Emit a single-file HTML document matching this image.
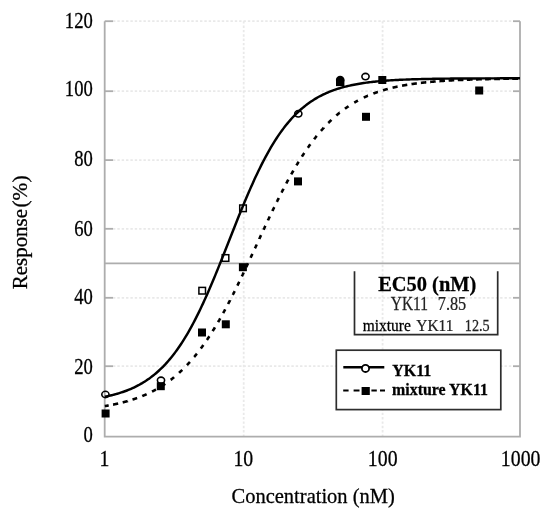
<!DOCTYPE html><html><head><meta charset="utf-8"><style>html,body{margin:0;padding:0;background:#fff;}svg{display:block;}text{font-family:"Liberation Serif","Times New Roman",serif;fill:#000;stroke:#000;stroke-width:0.28px;}</style></head><body>
<svg width="550" height="519" viewBox="0 0 550 519">
<rect width="550" height="519" fill="#fff"/>
<g stroke="#e9e9e9" stroke-width="1.8" stroke-dasharray="2.4 1.95" fill="none"><line x1="113" y1="366.2" x2="513" y2="366.2"/><line x1="113" y1="297.8" x2="513" y2="297.8"/><line x1="113" y1="228.8" x2="513" y2="228.8"/><line x1="113" y1="160.1" x2="513" y2="160.1"/><line x1="113" y1="91.2" x2="513" y2="91.2"/><line x1="113" y1="21.2" x2="513" y2="21.2"/><line x1="243.7" y1="21.2" x2="243.7" y2="436"/><line x1="382.6" y1="21.2" x2="382.6" y2="436"/></g>
<g stroke="#adadad" stroke-width="1.8" fill="none">
<path d="M104.7,21.2 V436.7 H520 V21.2"/>
<line x1="104.7" y1="366.2" x2="113" y2="366.2"/><line x1="513" y1="366.2" x2="520" y2="366.2"/>
<line x1="104.7" y1="297.8" x2="113" y2="297.8"/><line x1="513" y1="297.8" x2="520" y2="297.8"/>
<line x1="104.7" y1="228.8" x2="113" y2="228.8"/><line x1="513" y1="228.8" x2="520" y2="228.8"/>
<line x1="104.7" y1="160.1" x2="113" y2="160.1"/><line x1="513" y1="160.1" x2="520" y2="160.1"/>
<line x1="104.7" y1="91.2" x2="113" y2="91.2"/><line x1="513" y1="91.2" x2="520" y2="91.2"/>
<line x1="104.7" y1="21.2" x2="113" y2="21.2"/><line x1="513" y1="21.2" x2="520" y2="21.2"/>
<line x1="104.7" y1="263.4" x2="520" y2="263.4"/>
</g>
<path d="M104.80,396.77 L106.18,396.48 L107.57,396.19 L108.95,395.88 L110.34,395.56 L111.72,395.22 L113.10,394.87 L114.49,394.51 L115.87,394.13 L117.26,393.74 L118.64,393.33 L120.02,392.90 L121.41,392.45 L122.79,391.99 L124.18,391.51 L125.56,391.00 L126.94,390.48 L128.33,389.93 L129.71,389.37 L131.10,388.78 L132.48,388.17 L133.86,387.53 L135.25,386.86 L136.63,386.18 L138.02,385.46 L139.40,384.71 L140.78,383.94 L142.17,383.14 L143.55,382.30 L144.94,381.43 L146.32,380.54 L147.70,379.60 L149.09,378.63 L150.47,377.63 L151.86,376.58 L153.24,375.50 L154.62,374.38 L156.01,373.22 L157.39,372.02 L158.78,370.77 L160.16,369.48 L161.54,368.15 L162.93,366.77 L164.31,365.34 L165.70,363.87 L167.08,362.34 L168.46,360.77 L169.85,359.14 L171.23,357.47 L172.62,355.74 L174.00,353.95 L175.38,352.12 L176.77,350.22 L178.15,348.27 L179.54,346.27 L180.92,344.20 L182.30,342.08 L183.69,339.90 L185.07,337.67 L186.46,335.37 L187.84,333.02 L189.22,330.60 L190.61,328.13 L191.99,325.60 L193.38,323.02 L194.76,320.37 L196.14,317.67 L197.53,314.92 L198.91,312.11 L200.30,309.24 L201.68,306.32 L203.06,303.36 L204.45,300.34 L205.83,297.27 L207.22,294.16 L208.60,291.00 L209.98,287.80 L211.37,284.56 L212.75,281.28 L214.14,277.97 L215.52,274.62 L216.90,271.24 L218.29,267.84 L219.67,264.41 L221.06,260.96 L222.44,257.49 L223.82,254.01 L225.21,250.51 L226.59,247.00 L227.98,243.49 L229.36,239.98 L230.74,236.46 L232.13,232.96 L233.51,229.45 L234.90,225.96 L236.28,222.48 L237.66,219.02 L239.05,215.58 L240.43,212.17 L241.82,208.77 L243.20,205.41 L244.58,202.08 L245.97,198.78 L247.35,195.52 L248.74,192.30 L250.12,189.12 L251.50,185.98 L252.89,182.89 L254.27,179.85 L255.66,176.85 L257.04,173.91 L258.42,171.01 L259.81,168.17 L261.19,165.39 L262.58,162.66 L263.96,159.98 L265.34,157.37 L266.73,154.81 L268.11,152.31 L269.50,149.86 L270.88,147.48 L272.26,145.15 L273.65,142.88 L275.03,140.67 L276.42,138.52 L277.80,136.43 L279.18,134.39 L280.57,132.41 L281.95,130.49 L283.34,128.62 L284.72,126.81 L286.10,125.05 L287.49,123.35 L288.87,121.69 L290.26,120.09 L291.64,118.54 L293.02,117.04 L294.41,115.59 L295.79,114.18 L297.18,112.82 L298.56,111.51 L299.94,110.24 L301.33,109.02 L302.71,107.84 L304.10,106.69 L305.48,105.59 L306.86,104.53 L308.25,103.50 L309.63,102.52 L311.02,101.56 L312.40,100.65 L313.78,99.76 L315.17,98.91 L316.55,98.09 L317.94,97.30 L319.32,96.54 L320.70,95.81 L322.09,95.11 L323.47,94.43 L324.86,93.78 L326.24,93.15 L327.62,92.55 L329.01,91.97 L330.39,91.41 L331.78,90.88 L333.16,90.37 L334.54,89.87 L335.93,89.40 L337.31,88.94 L338.70,88.51 L340.08,88.09 L341.46,87.68 L342.85,87.30 L344.23,86.92 L345.62,86.57 L347.00,86.23 L348.38,85.90 L349.77,85.58 L351.15,85.28 L352.54,84.99 L353.92,84.71 L355.30,84.44 L356.69,84.19 L358.07,83.94 L359.46,83.71 L360.84,83.48 L362.22,83.26 L363.61,83.05 L364.99,82.86 L366.38,82.66 L367.76,82.48 L369.14,82.30 L370.53,82.14 L371.91,81.97 L373.30,81.82 L374.68,81.67 L376.06,81.53 L377.45,81.39 L378.83,81.26 L380.22,81.14 L381.60,81.02 L382.98,80.90 L384.37,80.79 L385.75,80.69 L387.14,80.58 L388.52,80.49 L389.90,80.39 L391.29,80.31 L392.67,80.22 L394.06,80.14 L395.44,80.06 L396.82,79.98 L398.21,79.91 L399.59,79.84 L400.98,79.78 L402.36,79.71 L403.74,79.65 L405.13,79.60 L406.51,79.54 L407.90,79.49 L409.28,79.44 L410.66,79.39 L412.05,79.34 L413.43,79.30 L414.82,79.25 L416.20,79.21 L417.58,79.17 L418.97,79.13 L420.35,79.10 L421.74,79.06 L423.12,79.03 L424.50,79.00 L425.89,78.97 L427.27,78.94 L428.66,78.91 L430.04,78.88 L431.42,78.86 L432.81,78.83 L434.19,78.81 L435.58,78.79 L436.96,78.77 L438.34,78.74 L439.73,78.73 L441.11,78.71 L442.50,78.69 L443.88,78.67 L445.26,78.65 L446.65,78.64 L448.03,78.62 L449.42,78.61 L450.80,78.59 L452.18,78.58 L453.57,78.57 L454.95,78.56 L456.34,78.54 L457.72,78.53 L459.10,78.52 L460.49,78.51 L461.87,78.50 L463.26,78.49 L464.64,78.48 L466.02,78.47 L467.41,78.47 L468.79,78.46 L470.18,78.45 L471.56,78.44 L472.94,78.44 L474.33,78.43 L475.71,78.42 L477.10,78.42 L478.48,78.41 L479.86,78.40 L481.25,78.40 L482.63,78.39 L484.02,78.39 L485.40,78.38 L486.78,78.38 L488.17,78.38 L489.55,78.37 L490.94,78.37 L492.32,78.36 L493.70,78.36 L495.09,78.36 L496.47,78.35 L497.86,78.35 L499.24,78.35 L500.62,78.34 L502.01,78.34 L503.39,78.34 L504.78,78.34 L506.16,78.33 L507.54,78.33 L508.93,78.33 L510.31,78.33 L511.70,78.32 L513.08,78.32 L514.46,78.32 L515.85,78.32 L517.23,78.32 L518.62,78.31 L520.00,78.31" fill="none" stroke="#000" stroke-width="2.45" stroke-linejoin="round"/>
<path d="M104.80,406.09 L104.94,406.07 L105.08,406.05 L105.22,406.02 L105.35,406.00 L105.49,405.98 L105.63,405.96 L105.77,405.93 L105.91,405.91 L106.05,405.89 L106.18,405.86 L106.32,405.84 L106.46,405.82 L106.60,405.79 L106.74,405.77 L106.88,405.74 L107.01,405.72 L107.15,405.70 L107.29,405.67 L107.43,405.65 L107.57,405.62 L107.71,405.60 L107.84,405.58 L107.98,405.55 L108.12,405.53 L108.26,405.50 L108.40,405.48 L108.54,405.45 L108.68,405.43 L108.74,405.42 M113.06,404.59 L113.10,404.59 L113.24,404.56 L113.38,404.53 L113.52,404.50 L113.66,404.47 L113.80,404.45 L113.93,404.42 L114.07,404.39 L114.21,404.36 L114.35,404.33 L114.49,404.30 L114.63,404.27 L114.76,404.24 L114.90,404.22 L115.04,404.19 L115.18,404.16 L115.32,404.13 L115.46,404.10 L115.60,404.07 L115.73,404.04 L115.87,404.01 L116.01,403.98 L116.15,403.95 L116.29,403.92 L116.43,403.89 L116.56,403.86 L116.70,403.83 L116.84,403.80 L116.98,403.77 L117.12,403.74 L117.26,403.71 L117.39,403.68 L117.53,403.65 L117.67,403.61 L117.81,403.58 L117.95,403.55 L118.09,403.52 L118.17,403.50 M122.74,402.40 L122.79,402.39 L122.93,402.35 L123.07,402.32 L123.21,402.28 L123.35,402.25 L123.48,402.21 L123.62,402.17 L123.76,402.14 L123.90,402.10 L124.04,402.07 L124.18,402.03 L124.31,401.99 L124.45,401.96 L124.59,401.92 L124.73,401.88 L124.87,401.85 L125.01,401.81 L125.14,401.77 L125.28,401.73 L125.42,401.70 L125.56,401.66 L125.70,401.62 L125.84,401.58 L125.98,401.54 L126.11,401.51 L126.25,401.47 L126.39,401.43 L126.53,401.39 L126.67,401.35 L126.81,401.31 L126.94,401.27 L127.08,401.24 L127.22,401.20 L127.36,401.16 L127.50,401.12 L127.64,401.08 L127.65,401.07 M132.50,399.60 L132.62,399.56 L132.76,399.52 L132.90,399.47 L133.03,399.42 L133.17,399.38 L133.31,399.33 L133.45,399.29 L133.59,399.24 L133.73,399.20 L133.86,399.15 L134.00,399.11 L134.14,399.06 L134.28,399.01 L134.42,398.97 L134.56,398.92 L134.69,398.87 L134.83,398.82 L134.97,398.78 L135.11,398.73 L135.25,398.68 L135.39,398.63 L135.52,398.59 L135.66,398.54 L135.80,398.49 L135.94,398.44 L136.08,398.39 L136.22,398.35 L136.36,398.30 L136.49,398.25 L136.63,398.20 L136.77,398.15 L136.91,398.10 L137.05,398.05 L137.14,398.02 M142.29,396.05 L142.31,396.04 L142.44,395.98 L142.58,395.93 L142.72,395.87 L142.86,395.81 L143.00,395.76 L143.14,395.70 L143.28,395.64 L143.41,395.58 L143.55,395.52 L143.69,395.47 L143.83,395.41 L143.97,395.35 L144.11,395.29 L144.24,395.23 L144.38,395.17 L144.52,395.11 L144.66,395.06 L144.80,395.00 L144.94,394.94 L145.07,394.88 L145.21,394.82 L145.35,394.76 L145.49,394.70 L145.63,394.63 L145.77,394.57 L145.90,394.51 L146.04,394.45 L146.18,394.39 L146.32,394.33 L146.46,394.27 L146.60,394.20 L146.60,394.20 M152.04,391.60 L152.13,391.55 L152.27,391.48 L152.41,391.41 L152.55,391.34 L152.69,391.27 L152.82,391.20 L152.96,391.12 L153.10,391.05 L153.24,390.98 L153.38,390.91 L153.52,390.83 L153.66,390.76 L153.79,390.69 L153.93,390.62 L154.07,390.54 L154.21,390.47 L154.35,390.39 L154.49,390.32 L154.62,390.24 L154.76,390.17 L154.90,390.10 L155.04,390.02 L155.18,389.94 L155.32,389.87 L155.45,389.79 L155.59,389.72 L155.73,389.64 L155.87,389.56 L155.97,389.51 M161.64,386.15 L161.68,386.12 L161.82,386.03 L161.96,385.95 L162.10,385.86 L162.24,385.77 L162.37,385.68 L162.51,385.59 L162.65,385.50 L162.79,385.41 L162.93,385.32 L163.07,385.23 L163.20,385.14 L163.34,385.05 L163.48,384.96 L163.62,384.87 L163.76,384.78 L163.90,384.69 L164.04,384.60 L164.17,384.50 L164.31,384.41 L164.45,384.32 L164.59,384.23 L164.73,384.13 L164.87,384.04 L165.00,383.95 L165.14,383.85 L165.23,383.79 M170.66,379.87 L170.68,379.86 L170.82,379.75 L170.96,379.64 L171.09,379.54 L171.23,379.43 L171.37,379.32 L171.51,379.22 L171.65,379.11 L171.79,379.00 L171.92,378.89 L172.06,378.78 L172.20,378.67 L172.34,378.56 L172.48,378.45 L172.62,378.34 L172.75,378.23 L172.89,378.12 L173.03,378.01 L173.17,377.90 L173.31,377.79 L173.45,377.68 L173.58,377.56 L173.72,377.45 L173.86,377.34 L174.00,377.23 L174.03,377.20 M179.10,372.82 L179.12,372.80 L179.26,372.68 L179.40,372.55 L179.54,372.43 L179.67,372.30 L179.81,372.17 L179.95,372.04 L180.09,371.92 L180.23,371.79 L180.37,371.66 L180.50,371.53 L180.64,371.40 L180.78,371.27 L180.92,371.14 L181.06,371.01 L181.20,370.88 L181.34,370.75 L181.47,370.62 L181.61,370.48 L181.75,370.35 L181.89,370.22 L182.03,370.09 L182.17,369.95 L182.24,369.88 M186.95,365.12 L187.01,365.06 L187.15,364.91 L187.29,364.77 L187.42,364.62 L187.56,364.47 L187.70,364.32 L187.84,364.18 L187.98,364.03 L188.12,363.88 L188.26,363.73 L188.39,363.58 L188.53,363.43 L188.67,363.28 L188.81,363.13 L188.95,362.98 L189.09,362.82 L189.22,362.67 L189.36,362.52 L189.50,362.37 L189.64,362.21 L189.78,362.06 L189.87,361.96 M194.16,356.98 L194.21,356.93 L194.34,356.77 L194.48,356.60 L194.62,356.43 L194.76,356.26 L194.90,356.10 L195.04,355.93 L195.18,355.76 L195.31,355.59 L195.45,355.42 L195.59,355.25 L195.73,355.08 L195.87,354.91 L196.01,354.74 L196.14,354.56 L196.28,354.39 L196.42,354.22 L196.56,354.05 L196.70,353.87 L196.84,353.70 L196.88,353.65 M200.80,348.55 L200.85,348.48 L200.99,348.29 L201.13,348.10 L201.26,347.92 L201.40,347.73 L201.54,347.54 L201.68,347.35 L201.82,347.16 L201.96,346.97 L202.10,346.79 L202.23,346.60 L202.37,346.40 L202.51,346.21 L202.65,346.02 L202.79,345.83 L202.93,345.64 L203.06,345.45 L203.20,345.25 L203.33,345.08 M206.94,339.89 L206.94,339.89 L207.08,339.69 L207.22,339.48 L207.35,339.28 L207.49,339.07 L207.63,338.86 L207.77,338.66 L207.91,338.45 L208.05,338.24 L208.18,338.04 L208.32,337.83 L208.46,337.62 L208.60,337.41 L208.74,337.20 L208.88,336.99 L209.02,336.78 L209.15,336.57 L209.29,336.36 L209.32,336.32 M212.67,331.08 L212.75,330.95 L212.89,330.73 L213.03,330.50 L213.17,330.28 L213.31,330.06 L213.44,329.84 L213.58,329.61 L213.72,329.39 L213.86,329.16 L214.00,328.94 L214.14,328.71 L214.27,328.49 L214.41,328.26 L214.55,328.03 L214.69,327.81 L214.83,327.58 L214.93,327.42 M218.06,322.15 L218.15,322.00 L218.29,321.76 L218.43,321.53 L218.56,321.29 L218.70,321.05 L218.84,320.81 L218.98,320.57 L219.12,320.33 L219.26,320.09 L219.40,319.85 L219.53,319.61 L219.67,319.37 L219.81,319.13 L219.95,318.89 L220.09,318.64 L220.21,318.42 M223.18,313.13 L223.27,312.97 L223.41,312.71 L223.55,312.46 L223.69,312.21 L223.82,311.96 L223.96,311.70 L224.10,311.45 L224.24,311.20 L224.38,310.94 L224.52,310.69 L224.65,310.44 L224.79,310.18 L224.93,309.93 L225.07,309.67 L225.21,309.41 L225.24,309.35 M228.07,304.05 L228.11,303.96 L228.25,303.69 L228.39,303.43 L228.53,303.17 L228.67,302.90 L228.81,302.64 L228.94,302.37 L229.08,302.11 L229.22,301.84 L229.36,301.57 L229.50,301.31 L229.64,301.04 L229.78,300.77 L229.91,300.51 L230.05,300.24 L230.05,300.23 M232.78,294.89 L232.82,294.82 L232.96,294.54 L233.10,294.27 L233.24,294.00 L233.37,293.72 L233.51,293.45 L233.65,293.17 L233.79,292.89 L233.93,292.62 L234.07,292.34 L234.20,292.06 L234.34,291.79 L234.48,291.51 L234.62,291.23 L234.71,291.05 M237.37,285.67 L237.39,285.63 L237.53,285.34 L237.66,285.06 L237.80,284.78 L237.94,284.49 L238.08,284.21 L238.22,283.93 L238.36,283.64 L238.49,283.36 L238.63,283.07 L238.77,282.79 L238.91,282.50 L239.05,282.22 L239.19,281.93 L239.25,281.80 M241.85,276.39 L241.95,276.17 L242.09,275.88 L242.23,275.59 L242.37,275.30 L242.51,275.01 L242.65,274.72 L242.78,274.43 L242.92,274.14 L243.06,273.84 L243.20,273.55 L243.34,273.26 L243.48,272.97 L243.62,272.68 L243.69,272.51 M246.25,267.08 L246.38,266.80 L246.52,266.50 L246.66,266.21 L246.80,265.91 L246.94,265.62 L247.08,265.32 L247.21,265.03 L247.35,264.73 L247.49,264.43 L247.63,264.14 L247.77,263.84 L247.91,263.54 L248.04,263.25 L248.07,263.18 M250.60,257.74 L250.67,257.59 L250.81,257.29 L250.95,256.99 L251.09,256.69 L251.23,256.39 L251.37,256.09 L251.50,255.80 L251.64,255.50 L251.78,255.20 L251.92,254.90 L252.06,254.60 L252.20,254.30 L252.33,254.00 L252.41,253.84 M254.92,248.39 L254.96,248.30 L255.10,248.00 L255.24,247.70 L255.38,247.40 L255.52,247.10 L255.66,246.80 L255.79,246.50 L255.93,246.20 L256.07,245.90 L256.21,245.60 L256.35,245.30 L256.49,245.00 L256.62,244.70 L256.72,244.49 M259.24,239.04 L259.25,239.00 L259.39,238.70 L259.53,238.40 L259.67,238.10 L259.81,237.80 L259.95,237.50 L260.08,237.20 L260.22,236.90 L260.36,236.60 L260.50,236.30 L260.64,236.00 L260.78,235.70 L260.92,235.40 L261.04,235.14 M263.56,229.69 L263.68,229.44 L263.82,229.14 L263.96,228.84 L264.10,228.54 L264.24,228.25 L264.38,227.95 L264.51,227.65 L264.65,227.36 L264.79,227.06 L264.93,226.76 L265.07,226.47 L265.21,226.17 L265.34,225.87 L265.38,225.80 M267.93,220.37 L267.97,220.27 L268.11,219.98 L268.25,219.69 L268.39,219.39 L268.53,219.10 L268.67,218.81 L268.80,218.51 L268.94,218.22 L269.08,217.93 L269.22,217.64 L269.36,217.35 L269.50,217.05 L269.63,216.76 L269.77,216.48 M272.36,211.07 L272.40,210.97 L272.54,210.69 L272.68,210.40 L272.82,210.11 L272.96,209.82 L273.09,209.54 L273.23,209.25 L273.37,208.97 L273.51,208.68 L273.65,208.39 L273.79,208.11 L273.92,207.82 L274.06,207.54 L274.20,207.25 L274.23,207.19 M276.87,201.81 L276.97,201.61 L277.11,201.33 L277.25,201.05 L277.38,200.77 L277.52,200.49 L277.66,200.22 L277.80,199.94 L277.94,199.66 L278.08,199.38 L278.22,199.10 L278.35,198.83 L278.49,198.55 L278.63,198.27 L278.77,198.00 L278.79,197.96 M281.50,192.61 L281.54,192.53 L281.68,192.26 L281.81,191.99 L281.95,191.72 L282.09,191.46 L282.23,191.19 L282.37,190.92 L282.51,190.65 L282.64,190.38 L282.78,190.11 L282.92,189.85 L283.06,189.58 L283.20,189.31 L283.34,189.05 L283.47,188.79 M286.27,183.48 L286.38,183.27 L286.52,183.01 L286.66,182.76 L286.80,182.50 L286.93,182.24 L287.07,181.98 L287.21,181.73 L287.35,181.47 L287.49,181.21 L287.63,180.96 L287.76,180.70 L287.90,180.45 L288.04,180.19 L288.18,179.94 L288.31,179.69 M291.23,174.42 L291.36,174.19 L291.50,173.94 L291.64,173.70 L291.78,173.45 L291.92,173.21 L292.06,172.97 L292.19,172.72 L292.33,172.48 L292.47,172.24 L292.61,171.99 L292.75,171.75 L292.89,171.51 L293.02,171.27 L293.16,171.03 L293.30,170.79 L293.36,170.69 M296.44,165.44 L296.48,165.36 L296.62,165.13 L296.76,164.90 L296.90,164.67 L297.04,164.44 L297.18,164.21 L297.31,163.98 L297.45,163.75 L297.59,163.52 L297.73,163.29 L297.87,163.07 L298.01,162.84 L298.14,162.61 L298.28,162.39 L298.42,162.16 L298.56,161.93 L298.66,161.77 M301.94,156.56 L302.02,156.43 L302.16,156.21 L302.30,156.00 L302.44,155.78 L302.57,155.57 L302.71,155.36 L302.85,155.14 L302.99,154.93 L303.13,154.72 L303.27,154.51 L303.40,154.30 L303.54,154.09 L303.68,153.88 L303.82,153.67 L303.96,153.46 L304.10,153.25 L304.23,153.04 L304.29,152.96 M307.79,147.81 L307.83,147.76 L307.97,147.56 L308.11,147.36 L308.25,147.17 L308.39,146.97 L308.52,146.77 L308.66,146.58 L308.80,146.38 L308.94,146.19 L309.08,145.99 L309.22,145.80 L309.36,145.61 L309.49,145.41 L309.63,145.22 L309.77,145.03 L309.91,144.84 L310.05,144.65 L310.19,144.45 L310.29,144.31 M314.09,139.24 L314.20,139.10 L314.34,138.92 L314.48,138.74 L314.61,138.56 L314.75,138.39 L314.89,138.21 L315.03,138.03 L315.17,137.86 L315.31,137.68 L315.44,137.51 L315.58,137.33 L315.72,137.16 L315.86,136.98 L316.00,136.81 L316.14,136.63 L316.28,136.46 L316.41,136.29 L316.55,136.12 L316.69,135.95 L316.75,135.87 M320.89,130.92 L320.98,130.82 L321.12,130.66 L321.26,130.50 L321.40,130.35 L321.53,130.19 L321.67,130.03 L321.81,129.87 L321.95,129.72 L322.09,129.56 L322.23,129.41 L322.36,129.25 L322.50,129.10 L322.64,128.94 L322.78,128.79 L322.92,128.63 L323.06,128.48 L323.20,128.33 L323.33,128.17 L323.47,128.02 L323.61,127.87 L323.75,127.72 L323.75,127.71 M328.30,122.94 L328.32,122.93 L328.45,122.79 L328.59,122.65 L328.73,122.51 L328.87,122.37 L329.01,122.24 L329.15,122.10 L329.28,121.96 L329.42,121.83 L329.56,121.69 L329.70,121.56 L329.84,121.42 L329.98,121.29 L330.12,121.15 L330.25,121.02 L330.39,120.88 L330.53,120.75 L330.67,120.62 L330.81,120.48 L330.95,120.35 L331.08,120.22 L331.22,120.09 L331.36,119.96 L331.38,119.94 M336.36,115.45 L336.48,115.34 L336.62,115.23 L336.76,115.11 L336.90,114.99 L337.04,114.87 L337.17,114.76 L337.31,114.64 L337.45,114.52 L337.59,114.41 L337.73,114.29 L337.87,114.18 L338.00,114.06 L338.14,113.95 L338.28,113.83 L338.42,113.72 L338.56,113.60 L338.70,113.49 L338.83,113.38 L338.97,113.27 L339.11,113.15 L339.25,113.04 L339.39,112.93 L339.53,112.82 L339.66,112.71 L339.67,112.71 M345.00,108.66 L345.06,108.61 L345.20,108.51 L345.34,108.42 L345.48,108.32 L345.62,108.22 L345.75,108.12 L345.89,108.02 L346.03,107.93 L346.17,107.83 L346.31,107.73 L346.45,107.64 L346.58,107.54 L346.72,107.44 L346.86,107.35 L347.00,107.25 L347.14,107.16 L347.28,107.06 L347.42,106.97 L347.55,106.88 L347.69,106.78 L347.83,106.69 L347.97,106.60 L348.11,106.50 L348.25,106.41 L348.38,106.32 L348.52,106.23 L348.54,106.21 M354.22,102.66 L354.34,102.59 L354.47,102.51 L354.61,102.43 L354.75,102.35 L354.89,102.27 L355.03,102.19 L355.17,102.11 L355.30,102.03 L355.44,101.95 L355.58,101.88 L355.72,101.80 L355.86,101.72 L356.00,101.64 L356.13,101.56 L356.27,101.48 L356.41,101.41 L356.55,101.33 L356.69,101.25 L356.83,101.18 L356.96,101.10 L357.10,101.02 L357.24,100.95 L357.38,100.87 L357.52,100.80 L357.66,100.72 L357.80,100.65 L357.93,100.57 L357.97,100.55 M363.77,97.62 L363.88,97.56 L364.02,97.50 L364.16,97.43 L364.30,97.37 L364.44,97.30 L364.58,97.24 L364.72,97.18 L364.85,97.11 L364.99,97.05 L365.13,96.98 L365.27,96.92 L365.41,96.86 L365.55,96.79 L365.68,96.73 L365.82,96.67 L365.96,96.61 L366.10,96.54 L366.24,96.48 L366.38,96.42 L366.51,96.36 L366.65,96.30 L366.79,96.24 L366.93,96.18 L367.07,96.11 L367.21,96.05 L367.34,95.99 L367.48,95.93 L367.62,95.87 L367.76,95.81 L367.90,95.75 L367.91,95.75 M373.39,93.54 L373.43,93.52 L373.57,93.47 L373.71,93.42 L373.85,93.37 L373.99,93.31 L374.13,93.26 L374.26,93.21 L374.40,93.16 L374.54,93.11 L374.68,93.06 L374.82,93.01 L374.96,92.96 L375.10,92.91 L375.23,92.86 L375.37,92.81 L375.51,92.76 L375.65,92.71 L375.79,92.66 L375.93,92.61 L376.06,92.56 L376.20,92.51 L376.34,92.46 L376.48,92.41 L376.62,92.36 L376.76,92.31 L376.89,92.27 L377.03,92.22 L377.17,92.17 L377.31,92.12 L377.45,92.07 L377.59,92.03 L377.72,91.98 L377.86,91.93 L377.87,91.93 M383.00,90.29 L383.12,90.25 L383.26,90.21 L383.40,90.17 L383.54,90.13 L383.68,90.09 L383.81,90.05 L383.95,90.01 L384.09,89.97 L384.23,89.92 L384.37,89.88 L384.51,89.84 L384.64,89.80 L384.78,89.76 L384.92,89.72 L385.06,89.69 L385.20,89.65 L385.34,89.61 L385.48,89.57 L385.61,89.53 L385.75,89.49 L385.89,89.45 L386.03,89.41 L386.17,89.37 L386.31,89.33 L386.44,89.30 L386.58,89.26 L386.72,89.22 L386.86,89.18 L387.00,89.14 L387.14,89.11 L387.27,89.07 L387.41,89.03 L387.55,88.99 L387.69,88.96 L387.78,88.93 M392.58,87.72 L392.67,87.70 L392.81,87.66 L392.95,87.63 L393.09,87.60 L393.23,87.57 L393.36,87.53 L393.50,87.50 L393.64,87.47 L393.78,87.44 L393.92,87.41 L394.06,87.37 L394.19,87.34 L394.33,87.31 L394.47,87.28 L394.61,87.25 L394.75,87.22 L394.89,87.18 L395.02,87.15 L395.16,87.12 L395.30,87.09 L395.44,87.06 L395.58,87.03 L395.72,87.00 L395.86,86.97 L395.99,86.94 L396.13,86.91 L396.27,86.88 L396.41,86.85 L396.55,86.82 L396.69,86.79 L396.82,86.76 L396.96,86.73 L397.10,86.70 L397.24,86.67 L397.38,86.64 L397.52,86.61 L397.58,86.60 M402.08,85.70 L402.08,85.70 L402.22,85.67 L402.36,85.65 L402.50,85.62 L402.64,85.60 L402.78,85.57 L402.91,85.55 L403.05,85.52 L403.19,85.49 L403.33,85.47 L403.47,85.44 L403.61,85.42 L403.74,85.39 L403.88,85.37 L404.02,85.34 L404.16,85.32 L404.30,85.29 L404.44,85.27 L404.57,85.24 L404.71,85.22 L404.85,85.20 L404.99,85.17 L405.13,85.15 L405.27,85.12 L405.40,85.10 L405.54,85.08 L405.68,85.05 L405.82,85.03 L405.96,85.00 L406.10,84.98 L406.24,84.96 L406.37,84.93 L406.51,84.91 L406.65,84.89 L406.79,84.86 L406.93,84.84 L407.07,84.82 L407.20,84.79 L407.27,84.78 M411.51,84.12 L411.63,84.10 L411.77,84.08 L411.91,84.06 L412.05,84.04 L412.19,84.02 L412.32,84.00 L412.46,83.98 L412.60,83.96 L412.74,83.94 L412.88,83.92 L413.02,83.90 L413.16,83.88 L413.29,83.86 L413.43,83.84 L413.57,83.82 L413.71,83.80 L413.85,83.78 L413.99,83.76 L414.12,83.74 L414.26,83.72 L414.40,83.70 L414.54,83.68 L414.68,83.66 L414.82,83.64 L414.95,83.62 L415.09,83.61 L415.23,83.59 L415.37,83.57 L415.51,83.55 L415.65,83.53 L415.78,83.51 L415.92,83.49 L416.06,83.48 L416.20,83.46 L416.34,83.44 L416.48,83.42 L416.62,83.40 L416.75,83.38 L416.84,83.37 M420.87,82.87 L420.91,82.87 L421.04,82.85 L421.18,82.84 L421.32,82.82 L421.46,82.81 L421.60,82.79 L421.74,82.77 L421.87,82.76 L422.01,82.74 L422.15,82.73 L422.29,82.71 L422.43,82.69 L422.57,82.68 L422.70,82.66 L422.84,82.65 L422.98,82.63 L423.12,82.62 L423.26,82.60 L423.40,82.59 L423.54,82.57 L423.67,82.56 L423.81,82.54 L423.95,82.53 L424.09,82.51 L424.23,82.50 L424.37,82.48 L424.50,82.47 L424.64,82.45 L424.78,82.44 L424.92,82.42 L425.06,82.41 L425.20,82.39 L425.33,82.38 L425.47,82.36 L425.61,82.35 L425.75,82.33 L425.89,82.32 L426.03,82.30 L426.16,82.29 L426.30,82.28 L426.30,82.28 M430.17,81.90 L430.18,81.90 L430.32,81.88 L430.46,81.87 L430.59,81.86 L430.73,81.85 L430.87,81.83 L431.01,81.82 L431.15,81.81 L431.29,81.80 L431.42,81.78 L431.56,81.77 L431.70,81.76 L431.84,81.75 L431.98,81.73 L432.12,81.72 L432.25,81.71 L432.39,81.70 L432.53,81.69 L432.67,81.67 L432.81,81.66 L432.95,81.65 L433.08,81.64 L433.22,81.63 L433.36,81.61 L433.50,81.60 L433.64,81.59 L433.78,81.58 L433.92,81.57 L434.05,81.55 L434.19,81.54 L434.33,81.53 L434.47,81.52 L434.61,81.51 L434.75,81.50 L434.88,81.49 L435.02,81.47 L435.16,81.46 L435.30,81.45 L435.44,81.44 L435.58,81.43 L435.68,81.42 M439.41,81.13 L439.45,81.13 L439.59,81.12 L439.73,81.11 L439.87,81.10 L440.00,81.09 L440.14,81.08 L440.28,81.07 L440.42,81.06 L440.56,81.05 L440.70,81.04 L440.84,81.03 L440.97,81.02 L441.11,81.01 L441.25,81.00 L441.39,80.99 L441.53,80.98 L441.67,80.97 L441.80,80.96 L441.94,80.95 L442.08,80.94 L442.22,80.93 L442.36,80.92 L442.50,80.91 L442.63,80.90 L442.77,80.90 L442.91,80.89 L443.05,80.88 L443.19,80.87 L443.33,80.86 L443.46,80.85 L443.60,80.84 L443.74,80.83 L443.88,80.82 L444.02,80.81 L444.16,80.80 L444.30,80.79 L444.43,80.79 L444.57,80.78 L444.71,80.77 L444.85,80.76 L444.99,80.75 M448.61,80.53 L448.72,80.52 L448.86,80.52 L449.00,80.51 L449.14,80.50 L449.28,80.49 L449.42,80.48 L449.55,80.48 L449.69,80.47 L449.83,80.46 L449.97,80.45 L450.11,80.44 L450.25,80.44 L450.38,80.43 L450.52,80.42 L450.66,80.41 L450.80,80.41 L450.94,80.40 L451.08,80.39 L451.22,80.38 L451.35,80.38 L451.49,80.37 L451.63,80.36 L451.77,80.35 L451.91,80.35 L452.05,80.34 L452.18,80.33 L452.32,80.32 L452.46,80.32 L452.60,80.31 L452.74,80.30 L452.88,80.29 L453.01,80.29 L453.15,80.28 L453.29,80.27 L453.43,80.27 L453.57,80.26 L453.71,80.25 L453.84,80.25 L453.98,80.24 L454.12,80.23 L454.23,80.23 M457.76,80.06 L457.86,80.05 L458.00,80.04 L458.14,80.04 L458.27,80.03 L458.41,80.03 L458.55,80.02 L458.69,80.01 L458.83,80.01 L458.97,80.00 L459.10,80.00 L459.24,79.99 L459.38,79.98 L459.52,79.98 L459.66,79.97 L459.80,79.96 L459.93,79.96 L460.07,79.95 L460.21,79.95 L460.35,79.94 L460.49,79.93 L460.63,79.93 L460.76,79.92 L460.90,79.92 L461.04,79.91 L461.18,79.91 L461.32,79.90 L461.46,79.89 L461.60,79.89 L461.73,79.88 L461.87,79.88 L462.01,79.87 L462.15,79.87 L462.29,79.86 L462.43,79.85 L462.56,79.85 L462.70,79.84 L462.84,79.84 L462.98,79.83 L463.12,79.83 L463.26,79.82 L463.39,79.81 L463.43,79.81 M466.89,79.68 L466.99,79.68 L467.13,79.67 L467.27,79.67 L467.41,79.66 L467.55,79.66 L467.68,79.65 L467.82,79.65 L467.96,79.64 L468.10,79.64 L468.24,79.63 L468.38,79.63 L468.52,79.62 L468.65,79.62 L468.79,79.61 L468.93,79.61 L469.07,79.60 L469.21,79.60 L469.35,79.60 L469.48,79.59 L469.62,79.59 L469.76,79.58 L469.90,79.58 L470.04,79.57 L470.18,79.57 L470.31,79.56 L470.45,79.56 L470.59,79.55 L470.73,79.55 L470.87,79.54 L471.01,79.54 L471.14,79.54 L471.28,79.53 L471.42,79.53 L471.56,79.52 L471.70,79.52 L471.84,79.51 L471.98,79.51 L472.11,79.50 L472.25,79.50 L472.39,79.50 L472.53,79.49 L472.58,79.49 M475.99,79.39 L476.13,79.38 L476.27,79.38 L476.40,79.38 L476.54,79.37 L476.68,79.37 L476.82,79.36 L476.96,79.36 L477.10,79.36 L477.23,79.35 L477.37,79.35 L477.51,79.34 L477.65,79.34 L477.79,79.34 L477.93,79.33 L478.06,79.33 L478.20,79.33 L478.34,79.32 L478.48,79.32 L478.62,79.31 L478.76,79.31 L478.90,79.31 L479.03,79.30 L479.17,79.30 L479.31,79.30 L479.45,79.29 L479.59,79.29 L479.73,79.28 L479.86,79.28 L480.00,79.28 L480.14,79.27 L480.28,79.27 L480.42,79.27 L480.56,79.26 L480.69,79.26 L480.83,79.26 L480.97,79.25 L481.11,79.25 L481.25,79.25 L481.39,79.24 L481.52,79.24 L481.66,79.24 L481.71,79.23 M485.07,79.15 L485.12,79.15 L485.26,79.15 L485.40,79.15 L485.54,79.14 L485.68,79.14 L485.82,79.14 L485.95,79.13 L486.09,79.13 L486.23,79.13 L486.37,79.13 L486.51,79.12 L486.65,79.12 L486.78,79.12 L486.92,79.11 L487.06,79.11 L487.20,79.11 L487.34,79.10 L487.48,79.10 L487.61,79.10 L487.75,79.10 L487.89,79.09 L488.03,79.09 L488.17,79.09 L488.31,79.08 L488.44,79.08 L488.58,79.08 L488.72,79.08 L488.86,79.07 L489.00,79.07 L489.14,79.07 L489.28,79.06 L489.41,79.06 L489.55,79.06 L489.69,79.06 L489.83,79.05 L489.97,79.05 L490.11,79.05 L490.24,79.04 L490.38,79.04 L490.52,79.04 L490.66,79.04 L490.80,79.03 L490.80,79.03 M494.13,78.97 L494.26,78.97 L494.40,78.97 L494.53,78.96 L494.67,78.96 L494.81,78.96 L494.95,78.96 L495.09,78.95 L495.23,78.95 L495.36,78.95 L495.50,78.95 L495.64,78.94 L495.78,78.94 L495.92,78.94 L496.06,78.94 L496.20,78.93 L496.33,78.93 L496.47,78.93 L496.61,78.93 L496.75,78.93 L496.89,78.92 L497.03,78.92 L497.16,78.92 L497.30,78.92 L497.44,78.91 L497.58,78.91 L497.72,78.91 L497.86,78.91 L497.99,78.90 L498.13,78.90 L498.27,78.90 L498.41,78.90 L498.55,78.90 L498.69,78.89 L498.82,78.89 L498.96,78.89 L499.10,78.89 L499.24,78.88 L499.38,78.88 L499.52,78.88 L499.66,78.88 L499.79,78.88 L499.88,78.87 M503.19,78.83 L503.25,78.82 L503.39,78.82 L503.53,78.82 L503.67,78.82 L503.81,78.82 L503.95,78.81 L504.08,78.81 L504.22,78.81 L504.36,78.81 L504.50,78.81 L504.64,78.81 L504.78,78.80 L504.91,78.80 L505.05,78.80 L505.19,78.80 L505.33,78.80 L505.47,78.79 L505.61,78.79 L505.74,78.79 L505.88,78.79 L506.02,78.79 L506.16,78.78 L506.30,78.78 L506.44,78.78 L506.58,78.78 L506.71,78.78 L506.85,78.78 L506.99,78.77 L507.13,78.77 L507.27,78.77 L507.41,78.77 L507.54,78.77 L507.68,78.77 L507.82,78.76 L507.96,78.76 L508.10,78.76 L508.24,78.76 L508.37,78.76 L508.51,78.75 L508.65,78.75 L508.79,78.75 L508.93,78.75 L508.94,78.75 M512.23,78.71 L512.25,78.71 L512.39,78.71 L512.53,78.71 L512.66,78.71 L512.80,78.70 L512.94,78.70 L513.08,78.70 L513.22,78.70 L513.36,78.70 L513.50,78.70 L513.63,78.70 L513.77,78.69 L513.91,78.69 L514.05,78.69 L514.19,78.69 L514.33,78.69 L514.46,78.69 L514.60,78.68 L514.74,78.68 L514.88,78.68 L515.02,78.68 L515.16,78.68 L515.29,78.68 L515.43,78.68 L515.57,78.67 L515.71,78.67 L515.85,78.67 L515.99,78.67 L516.12,78.67 L516.26,78.67 L516.40,78.67 L516.54,78.66 L516.68,78.66 L516.82,78.66 L516.96,78.66 L517.09,78.66 L517.23,78.66 L517.37,78.66 L517.51,78.66 L517.65,78.65 L517.79,78.65 L517.92,78.65 L517.99,78.65" fill="none" stroke="#000" stroke-width="2.6"/>
<ellipse cx="105.4" cy="394.5" rx="3.6" ry="3.2" fill="none" stroke="#000" stroke-width="1.6"/>
<ellipse cx="161.0" cy="380.3" rx="3.6" ry="3.2" fill="none" stroke="#000" stroke-width="1.6"/>
<ellipse cx="298.3" cy="113.8" rx="3.6" ry="3.2" fill="none" stroke="#000" stroke-width="1.6"/>
<ellipse cx="365.5" cy="76.6" rx="3.6" ry="3.2" fill="none" stroke="#000" stroke-width="1.6"/>
<rect x="198.9" y="287.4" width="6.6" height="6.6" fill="none" stroke="#000" stroke-width="1.5"/>
<rect x="222.2" y="254.7" width="6.6" height="6.6" fill="none" stroke="#000" stroke-width="1.5"/>
<rect x="239.7" y="205.0" width="6.6" height="6.6" fill="none" stroke="#000" stroke-width="1.5"/>
<ellipse cx="340.2" cy="80" rx="4.3" ry="4.2" fill="#000"/><rect x="336" y="79.5" width="8.4" height="6.6" fill="#000"/>
<rect x="101.6" y="409.5" width="8" height="8" fill="#000"/>
<rect x="156.8" y="382.2" width="8" height="8" fill="#000"/>
<rect x="198.0" y="328.5" width="8" height="8" fill="#000"/>
<rect x="221.8" y="320.3" width="8" height="8" fill="#000"/>
<rect x="238.9" y="263.2" width="8" height="8" fill="#000"/>
<rect x="294.0" y="177.4" width="8" height="8" fill="#000"/>
<rect x="362.0" y="112.8" width="8" height="8" fill="#000"/>
<rect x="378.3" y="76.0" width="8" height="8" fill="#000"/>
<rect x="475.2" y="86.5" width="8" height="8" fill="#000"/>
<path d="M354.5,271.3 V334.7 H497.7 V271.3" fill="none" stroke="#2b2b2b" stroke-width="1.7"/>
<rect x="336.3" y="350.2" width="164.5" height="59.4" fill="#fff" stroke="#2e2e2e" stroke-width="1.7"/>
<line x1="343.3" y1="367.2" x2="384.3" y2="367.2" stroke="#000" stroke-width="2.6"/>
<circle cx="365.5" cy="368.4" r="3.6" fill="#fff" stroke="#000" stroke-width="1.8"/>
<path d="M343.2,390.4 H348.6 M353.6,390.4 H359.5 M371.4,390.4 H376.8 M380,390.4 H385" stroke="#000" stroke-width="2"/>
<rect x="361.6" y="387" width="8.2" height="8" fill="#000"/>
<text transform="translate(64.87,27.70) scale(0.8400,1)" font-size="22.20" fill="#000">120</text>
<text transform="translate(64.87,96.30) scale(0.8400,1)" font-size="22.20" fill="#000">100</text>
<text transform="translate(74.20,165.50) scale(0.8400,1)" font-size="22.20" fill="#000">80</text>
<text transform="translate(74.20,235.90) scale(0.8400,1)" font-size="22.20" fill="#000">60</text>
<text transform="translate(74.20,304.40) scale(0.8400,1)" font-size="22.20" fill="#000">40</text>
<text transform="translate(74.20,373.50) scale(0.8400,1)" font-size="22.20" fill="#000">20</text>
<text transform="translate(83.52,441.90) scale(0.8400,1)" font-size="22.20" fill="#000">0</text>
<text transform="translate(99.40,465.80) scale(0.8800,1)" font-size="22.50" fill="#000">1</text>
<text transform="translate(233.45,465.80) scale(0.8800,1)" font-size="22.50" fill="#000">10</text>
<text transform="translate(367.85,465.80) scale(0.8800,1)" font-size="22.50" fill="#000">100</text>
<text transform="translate(500.85,465.80) scale(0.8800,1)" font-size="22.50" fill="#000">1000</text>
<text transform="translate(231.48,503.00) scale(0.9765,1)" font-size="21.00" fill="#000">Concentration (nM)</text>
<text transform="translate(26.9,289.23) rotate(-90) scale(1.0172,1)" font-size="20.60">Response</text>
<text transform="translate(26.9,207.56) rotate(-90) scale(1.0397,1)" font-size="20.60">(%)</text>
<text transform="translate(378.19,290.50) scale(0.9508,1)" font-size="21.50" font-weight="bold" fill="#000">EC50 (nM)</text>
<text transform="translate(390.75,310.40) scale(0.8312,1)" font-size="18.60" fill="#333" style="stroke:#222;stroke-width:0.25px;fill:#222">YK11</text>
<text transform="translate(437.74,310.40) scale(0.8759,1)" font-size="18.60" fill="#333" style="stroke:#222;stroke-width:0.25px;fill:#222">7.85</text>
<text transform="translate(362.69,330.50) scale(0.9108,1)" font-size="17.00" fill="#000">mixture</text>
<text transform="translate(416.25,330.50) scale(0.9094,1)" font-size="17.00" fill="#222" style="stroke:#222;stroke-width:0.25px;fill:#222">YK11</text>
<text transform="translate(464.82,330.50) scale(0.8351,1)" font-size="17.00" fill="#222" style="stroke:#222;stroke-width:0.25px;fill:#222">12.5</text>
<text transform="translate(392.18,375.50) scale(1.0000,1)" font-size="16.00" font-weight="bold" fill="#000">YK11</text>
<text transform="translate(392.10,394.50) scale(0.9947,1)" font-size="16.00" font-weight="bold" fill="#000">mixture YK11</text>
</svg></body></html>
